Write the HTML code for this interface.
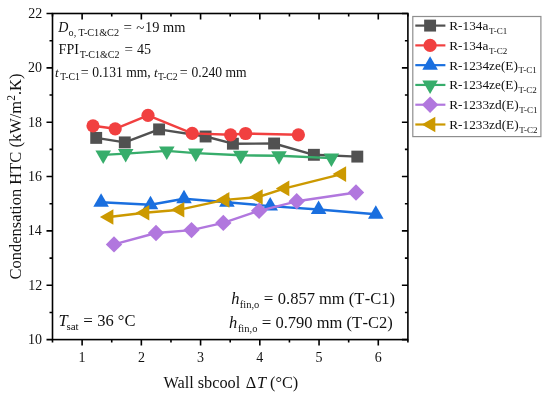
<!DOCTYPE html><html><head><meta charset="utf-8"><style>html,body{margin:0;padding:0;background:#fff;width:550px;height:398px;overflow:hidden}svg{display:block;will-change:transform}text{font-family:"Liberation Serif",serif;fill:#111}</style></head><body>
<svg width="550" height="398" viewBox="0 0 550 398">
<path d="M52.50 339.6v3 M52.50 13.5v3 M82.12 339.6v6 M82.12 13.5v6 M111.73 339.6v3 M111.73 13.5v3 M141.35 339.6v6 M141.35 13.5v6 M170.97 339.6v3 M170.97 13.5v3 M200.58 339.6v6 M200.58 13.5v6 M230.20 339.6v3 M230.20 13.5v3 M259.82 339.6v6 M259.82 13.5v6 M289.43 339.6v3 M289.43 13.5v3 M319.05 339.6v6 M319.05 13.5v6 M348.67 339.6v3 M348.67 13.5v3 M378.28 339.6v6 M378.28 13.5v6 M407.90 339.6v3 M407.90 13.5v3 M52.5 339.60h-6 M407.9 339.60h-6 M52.5 312.43h-3 M407.9 312.43h-3 M52.5 285.25h-6 M407.9 285.25h-6 M52.5 258.08h-3 M407.9 258.08h-3 M52.5 230.90h-6 M407.9 230.90h-6 M52.5 203.73h-3 M407.9 203.73h-3 M52.5 176.55h-6 M407.9 176.55h-6 M52.5 149.38h-3 M407.9 149.38h-3 M52.5 122.20h-6 M407.9 122.20h-6 M52.5 95.03h-3 M407.9 95.03h-3 M52.5 67.85h-6 M407.9 67.85h-6 M52.5 40.68h-3 M407.9 40.68h-3 M52.5 13.50h-6 M407.9 13.50h-6" stroke="#000" stroke-width="1.6" fill="none"/>
<rect x="52.5" y="13.5" width="355.40" height="326.10" stroke="#000" stroke-width="1.6" fill="none"/>
<text x="78.42" y="361.50" font-size="14">1</text>
<text x="137.93" y="361.50" font-size="14">2</text>
<text x="197.02" y="361.50" font-size="14">3</text>
<text x="256.29" y="361.50" font-size="14">4</text>
<text x="315.42" y="361.50" font-size="14">5</text>
<text x="374.69" y="361.50" font-size="14">6</text>
<text x="28.03" y="344.00" font-size="14">10</text>
<text x="28.27" y="289.65" font-size="14">12</text>
<text x="27.72" y="235.30" font-size="14">14</text>
<text x="27.92" y="180.95" font-size="14">16</text>
<text x="28.03" y="126.60" font-size="14">18</text>
<text x="28.03" y="72.25" font-size="14">20</text>
<text x="28.27" y="17.90" font-size="14">22</text>
<text x="163.38" y="387.70" font-size="16.3">Wall sbcool</text>
<text x="245.68" y="387.70" font-size="16.3">Δ</text>
<text x="256.93" y="387.70" font-size="16.3" font-style="italic">T</text>
<text x="269.98" y="387.70" font-size="16.3">(°C)</text>
<text transform="translate(21,279.6) rotate(-90)" font-size="16.5">Condensation HTC (kW/m<tspan dy="-6" font-size="11.5">2</tspan><tspan dy="6">.K)</tspan></text>
<polyline points="96.2,137.9 124.8,142.4 159.1,129.4 205.6,136.5 232.9,143.7 274.1,143.5 313.9,154.8 357.3,156.6" fill="none" stroke="#515151" stroke-width="2.4" stroke-linejoin="round"/>
<rect x="90.25" y="131.95" width="11.9" height="11.9" fill="#515151"/>
<rect x="118.85" y="136.45" width="11.9" height="11.9" fill="#515151"/>
<rect x="153.15" y="123.45" width="11.9" height="11.9" fill="#515151"/>
<rect x="199.65" y="130.55" width="11.9" height="11.9" fill="#515151"/>
<rect x="226.95" y="137.75" width="11.9" height="11.9" fill="#515151"/>
<rect x="268.15" y="137.55" width="11.9" height="11.9" fill="#515151"/>
<rect x="307.95" y="148.85" width="11.9" height="11.9" fill="#515151"/>
<rect x="351.35" y="150.65" width="11.9" height="11.9" fill="#515151"/>
<polyline points="93.0,125.8 115.2,128.8 148.0,115.3 192.2,133.4 230.6,134.8 245.6,133.5 298.4,134.8" fill="none" stroke="#F14040" stroke-width="2.4" stroke-linejoin="round"/>
<circle cx="93.00" cy="125.80" r="6.6" fill="#F14040"/>
<circle cx="115.20" cy="128.80" r="6.6" fill="#F14040"/>
<circle cx="148.00" cy="115.30" r="6.6" fill="#F14040"/>
<circle cx="192.20" cy="133.40" r="6.6" fill="#F14040"/>
<circle cx="230.60" cy="134.80" r="6.6" fill="#F14040"/>
<circle cx="245.60" cy="133.50" r="6.6" fill="#F14040"/>
<circle cx="298.40" cy="134.80" r="6.6" fill="#F14040"/>
<polyline points="101.1,202.3 150.5,204.8 184.0,198.8 226.9,202.2 270.2,206.1 318.6,209.5 375.8,214.2" fill="none" stroke="#1A6FDF" stroke-width="2.4" stroke-linejoin="round"/>
<polygon points="101.10,193.30 108.89,206.80 93.31,206.80" fill="#1A6FDF"/>
<polygon points="150.50,195.80 158.29,209.30 142.71,209.30" fill="#1A6FDF"/>
<polygon points="184.00,189.80 191.79,203.30 176.21,203.30" fill="#1A6FDF"/>
<polygon points="226.90,193.20 234.69,206.70 219.11,206.70" fill="#1A6FDF"/>
<polygon points="270.20,197.10 277.99,210.60 262.41,210.60" fill="#1A6FDF"/>
<polygon points="318.60,200.50 326.39,214.00 310.81,214.00" fill="#1A6FDF"/>
<polygon points="375.80,205.20 383.59,218.70 368.01,218.70" fill="#1A6FDF"/>
<polyline points="103.2,154.9 125.7,153.6 166.8,150.9 195.8,153.1 240.8,155.3 279.0,155.7 331.4,158.1" fill="none" stroke="#37AD6B" stroke-width="2.4" stroke-linejoin="round"/>
<polygon points="103.20,163.90 95.41,150.40 110.99,150.40" fill="#37AD6B"/>
<polygon points="125.70,162.60 117.91,149.10 133.49,149.10" fill="#37AD6B"/>
<polygon points="166.80,159.90 159.01,146.40 174.59,146.40" fill="#37AD6B"/>
<polygon points="195.80,162.10 188.01,148.60 203.59,148.60" fill="#37AD6B"/>
<polygon points="240.80,164.30 233.01,150.80 248.59,150.80" fill="#37AD6B"/>
<polygon points="279.00,164.70 271.21,151.20 286.79,151.20" fill="#37AD6B"/>
<polygon points="331.40,167.10 323.61,153.60 339.19,153.60" fill="#37AD6B"/>
<polyline points="114.0,244.4 156.0,233.0 191.5,230.1 223.3,222.9 259.1,210.8 296.7,201.3 356.0,192.5" fill="none" stroke="#B177DE" stroke-width="2.4" stroke-linejoin="round"/>
<polygon points="114.00,236.20 122.20,244.40 114.00,252.60 105.80,244.40" fill="#B177DE"/>
<polygon points="156.00,224.80 164.20,233.00 156.00,241.20 147.80,233.00" fill="#B177DE"/>
<polygon points="191.50,221.90 199.70,230.10 191.50,238.30 183.30,230.10" fill="#B177DE"/>
<polygon points="223.30,214.70 231.50,222.90 223.30,231.10 215.10,222.90" fill="#B177DE"/>
<polygon points="259.10,202.60 267.30,210.80 259.10,219.00 250.90,210.80" fill="#B177DE"/>
<polygon points="296.70,193.10 304.90,201.30 296.70,209.50 288.50,201.30" fill="#B177DE"/>
<polygon points="356.00,184.30 364.20,192.50 356.00,200.70 347.80,192.50" fill="#B177DE"/>
<polyline points="108.9,217.0 144.8,212.7 179.8,209.7 224.9,199.9 258.2,197.0 284.8,188.4 341.6,174.1" fill="none" stroke="#CC9900" stroke-width="2.4" stroke-linejoin="round"/>
<polygon points="99.90,217.00 113.40,209.21 113.40,224.79" fill="#CC9900"/>
<polygon points="135.80,212.70 149.30,204.91 149.30,220.49" fill="#CC9900"/>
<polygon points="170.80,209.70 184.30,201.91 184.30,217.49" fill="#CC9900"/>
<polygon points="215.90,199.90 229.40,192.11 229.40,207.69" fill="#CC9900"/>
<polygon points="249.20,197.00 262.70,189.21 262.70,204.79" fill="#CC9900"/>
<polygon points="275.80,188.40 289.30,180.61 289.30,196.19" fill="#CC9900"/>
<polygon points="332.60,174.10 346.10,166.31 346.10,181.89" fill="#CC9900"/>
<rect x="412.8" y="16.5" width="128.1" height="120.1" fill="#fff" stroke="#8e8e8e" stroke-width="1.2"/>
<line x1="415.3" y1="25.60" x2="445.4" y2="25.60" stroke="#515151" stroke-width="2.2"/>
<rect x="424.15" y="19.65" width="11.9" height="11.9" fill="#515151"/>
<text x="449.22" y="30.00" font-size="13.3">R-134a</text>
<text x="488.97" y="33.90" font-size="9">T-C1</text>
<line x1="415.3" y1="45.38" x2="445.4" y2="45.38" stroke="#F14040" stroke-width="2.2"/>
<circle cx="430.10" cy="45.38" r="6.6" fill="#F14040"/>
<text x="449.22" y="49.78" font-size="13.3">R-134a</text>
<text x="488.97" y="53.68" font-size="9">T-C2</text>
<line x1="415.3" y1="65.16" x2="445.4" y2="65.16" stroke="#1A6FDF" stroke-width="2.2"/>
<polygon points="430.10,56.16 437.89,69.66 422.31,69.66" fill="#1A6FDF"/>
<text x="449.22" y="69.56" font-size="13.3">R-1234ze(E)</text>
<text x="518.51" y="73.46" font-size="9">T-C1</text>
<line x1="415.3" y1="84.94" x2="445.4" y2="84.94" stroke="#37AD6B" stroke-width="2.2"/>
<polygon points="430.10,93.94 422.31,80.44 437.89,80.44" fill="#37AD6B"/>
<text x="449.22" y="89.34" font-size="13.3">R-1234ze(E)</text>
<text x="518.51" y="93.24" font-size="9">T-C2</text>
<line x1="415.3" y1="104.72" x2="445.4" y2="104.72" stroke="#B177DE" stroke-width="2.2"/>
<polygon points="430.10,96.52 438.30,104.72 430.10,112.92 421.90,104.72" fill="#B177DE"/>
<text x="449.22" y="109.12" font-size="13.3">R-1233zd(E)</text>
<text x="519.25" y="113.02" font-size="9">T-C1</text>
<line x1="415.3" y1="124.50" x2="445.4" y2="124.50" stroke="#CC9900" stroke-width="2.2"/>
<polygon points="421.80,124.50 435.30,116.71 435.30,132.29" fill="#CC9900"/>
<text x="449.22" y="128.90" font-size="13.3">R-1233zd(E)</text>
<text x="519.25" y="132.80" font-size="9">T-C2</text>
<text x="58.26" y="31.60" font-size="14" font-style="italic">D</text>
<text x="68.61" y="36.30" font-size="10.2">o, T-C1&amp;C2</text>
<text x="123.45" y="31.60" font-size="15">=</text>
<text x="136.18" y="33.20" font-size="15">~</text>
<text x="145.03" y="31.60" font-size="14.4">19 mm</text>
<text x="58.60" y="53.50" font-size="14">FPI</text>
<text x="79.82" y="57.60" font-size="10">T-C1&amp;C2</text>
<text x="124.55" y="53.50" font-size="15">=</text>
<text x="137.03" y="53.50" font-size="14">45</text>
<text x="55.03" y="76.60" font-size="13" font-style="italic">t</text>
<text x="60.22" y="79.60" font-size="9.7">T-C1</text>
<text x="80.80" y="76.60" font-size="14">=</text>
<text x="92.18" y="76.60" font-size="13.6">0.131 mm,</text>
<text x="153.93" y="76.60" font-size="13" font-style="italic">t</text>
<text x="158.02" y="79.60" font-size="9.7">T-C2</text>
<text x="179.80" y="76.60" font-size="14">=</text>
<text x="191.48" y="76.60" font-size="13.6">0.240 mm</text>
<text x="231.30" y="304.00" font-size="16.5" font-style="italic">h</text>
<text x="239.78" y="308.30" font-size="10.5">fin,o</text>
<text x="263.75" y="304.00" font-size="17">=</text>
<text x="277.77" y="304.00" font-size="16.5">0.857 mm (T</text>
<text x="364.79" y="304.00" font-size="16.5">-C1)</text>
<text x="228.90" y="327.70" font-size="16.5" font-style="italic">h</text>
<text x="237.88" y="332.10" font-size="10.5">fin,o</text>
<text x="261.85" y="327.70" font-size="17">=</text>
<text x="275.47" y="327.70" font-size="16.5">0.790 mm (T</text>
<text x="362.59" y="327.70" font-size="16.5">-C2)</text>
<text x="58.52" y="325.60" font-size="16.5" font-style="italic">T</text>
<text x="66.45" y="330.40" font-size="11">sat</text>
<text x="83.15" y="325.60" font-size="17">=</text>
<text x="97.21" y="325.60" font-size="16.5">36 °C</text>
</svg></body></html>
